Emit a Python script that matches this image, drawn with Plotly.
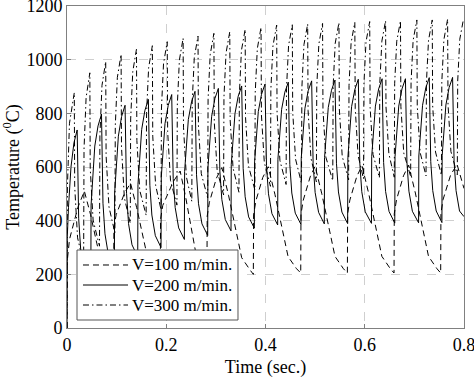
import plotly.graph_objects as go

# Values, one inner list per heating/cooling cycle: (time s, temperature C)
v100_cycles = [
    [(0.0, 0), (0.0005, 250), (0.005, 330), (0.022, 450), (0.035, 510), (0.0475, 422), (0.06, 316), (0.072, 223), (0.087, 184)],
    [(0.094, 170), (0.0945, 374), (0.099, 422), (0.116, 503), (0.128, 540), (0.1405, 448), (0.153, 338), (0.165, 240), (0.18, 199)],
    [(0.188, 185), (0.1885, 405), (0.193, 457), (0.214, 545), (0.228, 585), (0.2395, 484), (0.251, 363), (0.262, 255), (0.275, 211)],
    [(0.282, 195), (0.2825, 417), (0.287, 469), (0.301, 558), (0.312, 598), (0.3255, 495), (0.339, 371), (0.352, 262), (0.369, 216)],
    [(0.3755, 200), (0.376, 421), (0.3805, 473), (0.3945, 561), (0.4055, 601), (0.419, 498), (0.4325, 375), (0.4455, 266), (0.4625, 221)],
    [(0.471, 205), (0.4715, 424), (0.476, 476), (0.49, 563), (0.5, 603), (0.5135, 500), (0.527, 376), (0.54, 267), (0.557, 221)],
    [(0.565, 205), (0.5655, 425), (0.57, 477), (0.584, 565), (0.5945, 605), (0.608, 501), (0.6215, 377), (0.6345, 267), (0.6515, 221)],
    [(0.659, 205), (0.6595, 426), (0.664, 478), (0.678, 567), (0.6885, 607), (0.702, 503), (0.7155, 378), (0.7285, 267), (0.7455, 221)],
    [(0.753, 205), (0.7535, 428), (0.758, 480), (0.773, 570), (0.786, 610), (0.8, 520)],
]

v200_cycles = [
    [(0.0, 0), (0.0006, 340), (0.003, 450), (0.008, 600), (0.014, 690), (0.0205, 738), (0.0235, 409), (0.0275, 295), (0.0345, 215)],
    [(0.048, 170), (0.0485, 458), (0.051, 546), (0.056, 678), (0.0625, 753), (0.0695, 797), (0.0725, 465), (0.0765, 351), (0.0835, 271)],
    [(0.0955, 225), (0.096, 503), (0.0985, 588), (0.1035, 715), (0.11, 788), (0.117, 830), (0.12, 502), (0.124, 389), (0.131, 310)],
    [(0.1425, 265), (0.143, 535), (0.1455, 617), (0.1505, 740), (0.157, 811), (0.164, 852), (0.167, 532), (0.171, 421), (0.178, 344)],
    [(0.1895, 300), (0.19, 562), (0.1925, 642), (0.1975, 762), (0.204, 830), (0.211, 870), (0.214, 557), (0.218, 449), (0.225, 373)],
    [(0.2365, 330), (0.237, 584), (0.2395, 661), (0.2445, 777), (0.251, 843), (0.258, 882), (0.261, 571), (0.265, 463), (0.272, 388)],
    [(0.2835, 345), (0.284, 597), (0.2865, 674), (0.2915, 789), (0.298, 855), (0.305, 893), (0.308, 585), (0.312, 479), (0.319, 404)],
    [(0.3305, 362), (0.331, 610), (0.3335, 686), (0.3385, 799), (0.345, 864), (0.352, 902), (0.355, 595), (0.359, 489), (0.366, 414)],
    [(0.3775, 372), (0.378, 619), (0.3805, 694), (0.3855, 807), (0.392, 871), (0.399, 909), (0.402, 605), (0.406, 500), (0.413, 426)],
    [(0.4245, 384), (0.425, 629), (0.4275, 703), (0.4325, 815), (0.439, 879), (0.446, 916), (0.449, 609), (0.453, 503), (0.46, 428)],
    [(0.4715, 386), (0.472, 632), (0.4745, 707), (0.4795, 819), (0.486, 884), (0.493, 921), (0.496, 612), (0.5, 505), (0.507, 431)],
    [(0.5185, 388), (0.519, 635), (0.5215, 710), (0.5265, 822), (0.533, 886), (0.54, 924), (0.543, 614), (0.547, 507), (0.554, 432)],
    [(0.5655, 389), (0.566, 636), (0.5685, 712), (0.5735, 825), (0.58, 889), (0.587, 927), (0.59, 616), (0.594, 508), (0.601, 433)],
    [(0.6135, 390), (0.614, 638), (0.6165, 713), (0.6215, 827), (0.628, 891), (0.635, 929), (0.638, 617), (0.642, 509), (0.649, 434)],
    [(0.6605, 391), (0.661, 638), (0.6635, 714), (0.6685, 827), (0.675, 891), (0.682, 929), (0.685, 618), (0.689, 510), (0.696, 435)],
    [(0.7085, 392), (0.709, 641), (0.7115, 717), (0.7165, 830), (0.723, 895), (0.73, 933), (0.733, 620), (0.737, 512), (0.744, 436)],
    [(0.7555, 393), (0.756, 642), (0.7585, 718), (0.7635, 831), (0.77, 896), (0.777, 934), (0.78, 620), (0.784, 512), (0.791, 436), (0.8, 415)],
]

v300_cycles = [
    [(0.0, 0), (0.0008, 526), (0.005, 763), (0.0147, 877), (0.0155, 527), (0.0213, 336)],
    [(0.0335, 240), (0.0343, 667), (0.0385, 859), (0.046, 951), (0.0468, 596), (0.0526, 402)],
    [(0.0655, 305), (0.0663, 718), (0.0705, 904), (0.078, 993), (0.0788, 642), (0.0846, 451)],
    [(0.0965, 355), (0.0973, 754), (0.1015, 934), (0.109, 1020), (0.1098, 674), (0.1156, 485)],
    [(0.1275, 390), (0.1283, 779), (0.1325, 955), (0.14, 1039), (0.1408, 699), (0.1466, 513)],
    [(0.1595, 420), (0.1603, 799), (0.1645, 970), (0.172, 1052), (0.1728, 715), (0.1786, 532)],
    [(0.1895, 440), (0.1903, 816), (0.1945, 985), (0.202, 1067), (0.2028, 732), (0.2086, 549)],
    [(0.2215, 458), (0.2223, 831), (0.2265, 999), (0.234, 1080), (0.2348, 746), (0.2406, 563)],
    [(0.2515, 472), (0.2523, 842), (0.2565, 1008), (0.264, 1088), (0.2648, 756), (0.2706, 575)],
    [(0.2835, 485), (0.2843, 853), (0.2885, 1018), (0.296, 1098), (0.2968, 767), (0.3026, 586)],
    [(0.3155, 496), (0.3163, 861), (0.3205, 1025), (0.328, 1104), (0.3288, 775), (0.3346, 596)],
    [(0.3465, 506), (0.3473, 870), (0.3515, 1034), (0.359, 1113), (0.3598, 784), (0.3656, 605)],
    [(0.3785, 515), (0.3793, 878), (0.3835, 1041), (0.391, 1120), (0.3918, 794), (0.3976, 617)],
    [(0.41, 528), (0.4108, 889), (0.415, 1051), (0.4225, 1129), (0.4233, 802), (0.4291, 624)],
    [(0.4415, 535), (0.4423, 892), (0.4465, 1053), (0.454, 1130), (0.4548, 806), (0.4606, 629)],
    [(0.4725, 540), (0.4733, 896), (0.4775, 1056), (0.485, 1133), (0.4858, 810), (0.4916, 633)],
    [(0.5025, 545), (0.5033, 899), (0.5075, 1058), (0.515, 1135), (0.5158, 813), (0.5216, 637)],
    [(0.5355, 549), (0.5363, 902), (0.5405, 1061), (0.548, 1138), (0.5488, 816), (0.5546, 640)],
    [(0.5675, 552), (0.5683, 904), (0.5725, 1063), (0.58, 1139), (0.5808, 818), (0.5866, 643)],
    [(0.5975, 556), (0.5983, 908), (0.6025, 1066), (0.61, 1142), (0.6108, 822), (0.6166, 647)],
    [(0.6295, 560), (0.6303, 911), (0.6345, 1069), (0.642, 1145), (0.6428, 824), (0.6486, 649)],
    [(0.6595, 562), (0.6603, 912), (0.6645, 1069), (0.672, 1145), (0.6728, 826), (0.6786, 652)],
    [(0.6925, 565), (0.6933, 915), (0.6975, 1072), (0.705, 1148), (0.7058, 828), (0.7116, 654)],
    [(0.7235, 567), (0.7243, 916), (0.7285, 1072), (0.736, 1148), (0.7368, 830), (0.7426, 656)],
    [(0.7545, 569), (0.7553, 918), (0.7595, 1075), (0.767, 1151), (0.7678, 832), (0.7736, 658)],
    [(0.7865, 571), (0.7873, 920), (0.7915, 1076), (0.799, 1152)],
]

series_names = ["V=100 m/min.", "V=200 m/min.", "V=300 m/min."]
x_ticks = [0, 0.2, 0.4, 0.6, 0.8]
x_ticktext = ["0", "0.2", "0.4", "0.6", "0.8"]
y_ticks = [0, 200, 400, 600, 800, 1000, 1200]


def flatten(cycles):
    xs = [pt[0] for c in cycles for pt in c]
    ys = [pt[1] for c in cycles for pt in c]
    return xs, ys


font = "Liberation Serif, Times New Roman, serif"
fig = go.Figure()
styles = [dict(color="black", width=1, dash="6px,4px"),
          dict(color="black", width=1),
          dict(color="black", width=1, dash="6px,3px,1.5px,3px")]
for name, cyc, st in zip(series_names, [v100_cycles, v200_cycles, v300_cycles], styles):
    xs, ys = flatten(cyc)
    fig.add_trace(go.Scatter(x=xs, y=ys, mode="lines", name=name, line=st, showlegend=False))

# Legend box drawn in plot-area (paper) coordinates
fig.add_shape(type="rect", xref="paper", yref="paper", x0=0.0252, x1=0.4307, y0=0.0248, y1=0.2422,
              fillcolor="white", line=dict(color="#555555", width=1), layer="above")
row_y = [0.1957, 0.1335, 0.0714]
for name, st, yy in zip(series_names, styles, row_y):
    fig.add_shape(type="line", xref="paper", yref="paper", x0=0.0403, x1=0.1537, y0=yy, y1=yy,
                  line=st, layer="above")
    fig.add_annotation(xref="paper", yref="paper", x=0.158, y=yy, text=name, showarrow=False,
                       xanchor="left", yanchor="middle", font=dict(family=font, size=17, color="black"))

axis_common = dict(showline=True, linecolor="#808080", linewidth=1, mirror=True,
                   ticks="inside", ticklen=4, tickcolor="#808080",
                   showgrid=True, gridcolor="#cfcfcf", griddash="dash", gridwidth=1,
                   zeroline=False, automargin=False, ticklabeloverflow="allow",
                   tickfont=dict(family=font, size=18, color="black"))
fig.update_layout(
    width=474, height=379,
    margin=dict(l=67, r=10, t=6, b=51),
    paper_bgcolor="white", plot_bgcolor="white",
    font=dict(family=font, size=18, color="black"),
    xaxis=dict(range=[0, 0.8], tickvals=x_ticks, ticktext=x_ticktext,
               title=dict(text="Time (sec.)", standoff=6, font=dict(family=font, size=18)), **axis_common),
    yaxis=dict(range=[0, 1200], tickvals=y_ticks,
               title=dict(text="Temperature (<sup>0</sup>C)", standoff=2, font=dict(family=font, size=18)), **axis_common),
    showlegend=False,
)
fig.write_html("out.html", config={"displayModeBar": False},
               post_script="document.body.style.margin='0';document.body.style.overflow='hidden';")
